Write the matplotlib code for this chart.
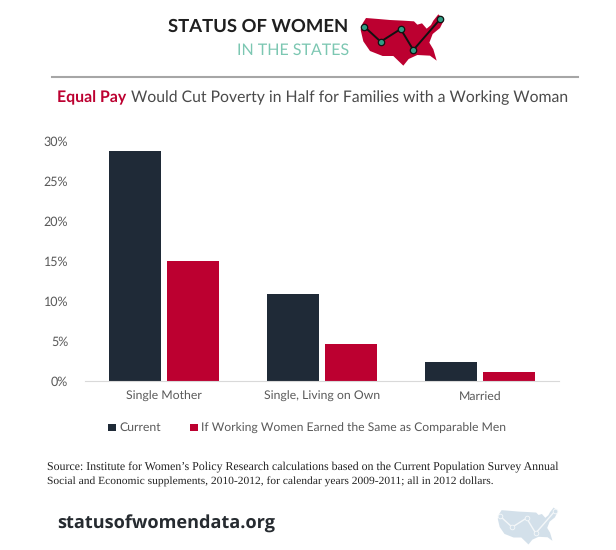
import matplotlib
matplotlib.use("Agg")
import matplotlib.pyplot as plt
from matplotlib.patches import Polygon, Rectangle

plt.rcParams["text.hinting"] = "no_hinting"

categories = ["Single Mother", "Single, Living on Own", "Married"]
current = [28.7, 10.9, 2.4]
equal_pay = [15.0, 4.6, 1.1]
series_names = ["Current", "If Working Women Earned the Same as Comparable Men"]
y_ticks = [0, 5, 10, 15, 20, 25, 30]

# Outline of the US map and the trend line used in the logo, in logo units
map_outline = [(638, 70), (648, 54), (685, 57), (720, 60), (760, 62), (792, 64), (802, 74), (816, 70),
               (830, 86), (843, 75), (850, 62), (865, 43), (882, 60), (870, 84), (848, 102), (838, 128),
               (850, 148), (860, 182), (840, 167), (802, 165), (776, 177), (760, 197), (730, 168),
               (698, 168), (660, 153), (640, 124), (632, 90)]
trend = [(643, 80), (692, 125), (752, 87), (790, 150), (870, 58)]

NAVY = "#1f2a37"
CRIMSON = "#bc0030"
GREY = "#595959"
W, H = 616, 550

fig = plt.figure(figsize=(W / 100, H / 100), dpi=100, facecolor="white")

# Bar chart
ax = fig.add_axes([85 / W, 1 - 381 / H, 474 / W, 240 / H])
xs = range(len(categories))
bar_w = 0.329
ax.bar([x - 0.1835 for x in xs], current, bar_w, color=NAVY)
ax.bar([x + 0.1835 for x in xs], equal_pay, bar_w, color=CRIMSON)
ax.set_xlim(-0.5, 2.5)
ax.set_ylim(0, 30)
ax.set_yticks(y_ticks)
ax.set_yticklabels([f"{v}%" for v in y_ticks], family="Lato", fontsize=9, color=GREY)
ax.set_xticks(list(xs))
ax.set_xticklabels(categories, family="Lato", fontsize=8.8, color=GREY)
ax.tick_params(axis="both", length=0)
ax.tick_params(axis="x", pad=7)
ax.tick_params(axis="y", pad=12)
for side in ("top", "left", "right"):
    ax.spines[side].set_visible(False)
ax.spines["bottom"].set_color("#d9d9d9")

# Page furniture is positioned in pixel units on a full-figure overlay
ov = fig.add_axes([0, 0, 1, 1], facecolor="none")
ov.set_xlim(0, W)
ov.set_ylim(H, 0)
ov.axis("off")


def draw_logo(x0, y0, scale, fill, line, dot, edge):
    pts = [(x0 + (px - 633) / 3 * scale, y0 + (py - 45) / 3 * scale) for px, py in map_outline]
    ov.add_patch(Polygon(pts, closed=True, facecolor=fill, edgecolor="none"))
    tx = [x0 + (px - 633) / 3 * scale for px, _ in trend]
    ty = [y0 + (py - 45) / 3 * scale for _, py in trend]
    ov.plot(tx, ty, color=line, lw=1.4 * scale, marker="o", ms=4.6 * scale,
            mfc=dot, mec=edge, mew=0.9 * scale)


ov.text(348, 27, "STATUS OF WOMEN", family="Lato", weight="bold", fontsize=13.3,
        color="#1f1f1f", ha="right", va="center")
ov.text(349, 50, "IN THE STATES", family="Lato", fontsize=11.5,
        color="#7cc7b2", ha="right", va="center")
draw_logo(361, 15, 1.0, CRIMSON, "#111111", "#2f9d84", "#111111")

ov.plot([52, 578], [77, 77], color="#a6a6a6", lw=1.5)

ov.text(57, 98, "Equal Pay", family="Lato", weight="bold", fontsize=11.4,
        color=CRIMSON, va="center")
ov.text(131, 98, "Would Cut Poverty in Half for Families with a Working Woman", family="Lato",
        fontsize=11.35, color="#4a4a4a", va="center")

# Legend
ov.add_patch(Rectangle((108, 424), 7.5, 7, color=NAVY, lw=0))
ov.text(119, 428, series_names[0], family="Lato", fontsize=8.8, color=GREY, va="center")
ov.add_patch(Rectangle((190, 424), 7.5, 7, color=CRIMSON, lw=0))
ov.text(201, 428, series_names[1], family="Lato", fontsize=8.77, color=GREY, va="center")

ov.text(47, 467, "Source: Institute for Women\u2019s Policy Research calculations based on the Current "
        "Population Survey Annual", family="Liberation Serif", fontsize=8.6, color="#222222", va="center")
ov.text(47, 482, "Social and Economic supplements, 2010-2012, for calendar years 2009-2011; all in 2012 dollars.",
        family="Liberation Serif", fontsize=8.25, color="#222222", va="center")

ov.text(57, 524, "statusofwomendata.org", family="Open Sans", weight="bold", fontsize=13.05,
        color="#262b30", va="center")
draw_logo(498, 508, 0.72, "#d3e0ea", "#f4f7f9", "#d3e0ea", "#f4f7f9")

fig.savefig("out.png", dpi=100, facecolor="white")
